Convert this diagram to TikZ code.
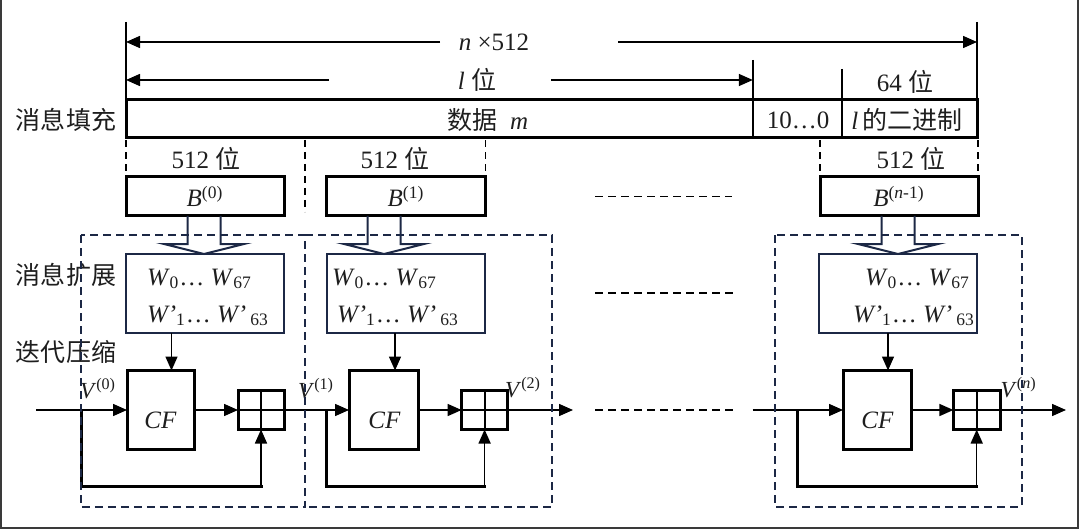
\documentclass[tikz,border=0pt]{standalone}
\usepackage{fontspec}
\setmainfont{Liberation Serif}
\newfontfamily\cjk{Noto Sans CJK SC}
\usetikzlibrary{arrows.meta,calc}
\definecolor{navy}{HTML}{1C2845}
\definecolor{framec}{HTML}{3A3A3A}
\definecolor{txt}{HTML}{1E1E1E}
\newcommand\myW{\textit{W}}
\newcommand\myWp{\textit{W'}}
\begin{document}
\begin{tikzpicture}[x=0.5pt,y=-0.5pt,
  every node/.style={inner sep=0pt, outer sep=0pt, font=\fontsize{12.5}{14}\selectfont, text=txt},
  vlab/.style={anchor=base west, font=\fontsize{11.5}{13}\selectfont},
  thickbox/.style={draw=black, line width=1.5pt, rectangle},
  wbox/.style={draw=navy, line width=1pt, rectangle},
  arr/.style={-{Triangle[length=7pt,width=6pt]}, line width=0.75pt},
  vline/.style={line width=1pt},
  blkdash/.style={line width=0.75pt, dash pattern=on 3.5pt off 2.5pt},
  sepdash/.style={line width=0.8pt, dash pattern=on 4pt off 2.5pt},
  navydash/.style={draw=navy, line width=0.9pt, dash pattern=on 4pt off 2.5pt},
  hollow/.style={draw=navy, line width=1pt, line join=miter},
  fbline/.style={line width=1.5pt, line join=miter, line cap=rect},
]
\useasboundingbox (0,0) rectangle (1080,529);
% frame
\draw[framec, line width=1.2pt] (1,0) -- (1,528) -- (1078,528) -- (1078,0);

% ---------- message bar ----------
\node[thickbox, minimum width=425.5pt, minimum height=19pt] (bar) at (551.5,118.5) {};
\coordinate (tl) at (126,22);
\coordinate (tr) at (977,22);
\coordinate (d1) at (752.8,60);
\coordinate (d2) at (842,69);
\draw[vline] (tl) -- (tl |- bar.north);
\draw[vline] (tr) -- (tr |- bar.north);
\draw[vline] (d1) -- (d1 |- bar.south);
\draw[vline] (d2) -- (d2 |- bar.south);

\node (ntxt) at (494,42) {\textit{n} ×512};
\coordinate (n1) at (440,42);
\coordinate (n2) at (618,42);
\draw[arr] (n1) -- (n1 -| tl);
\draw[arr] (n2) -- (n2 -| tr);

\node (ltxt) at (477,80) {\textit{l} {\cjk 位}};
\coordinate (l1) at (329,80);
\coordinate (l2) at (551,80);
\draw[arr] (l1) -- (l1 -| tl);
\draw[arr] (l2) -- (l2 -| d1);
\node (t64) at (905,82) {64 {\cjk 位}};

\node (tm) at (488,120) {{\cjk 数据}\ \ \textit{m}};
\node (tpad) at (798,120) {10…0};
\node (tlen) at (907,120) {\textit{l}\,{\cjk 的二进制}};
\node (lab1) at (66,120) {{\cjk 消息填充}};
\node (lab2) at (66,275) {{\cjk 消息扩展}};
\node (lab3) at (66,352) {{\cjk 迭代压缩}};

% ---------- blocks ----------
\node (s512a) at (206,159) {512 {\cjk 位}};
\node (s512b) at (395,159) {512 {\cjk 位}};
\node (s512c) at (911,159) {512 {\cjk 位}};

\node[thickbox, minimum width=79pt, minimum height=19.5pt] (B0) at (205,196.5) {\textit{B}\textsuperscript{(0)}};
\node[thickbox, minimum width=79.5pt, minimum height=19.5pt] (B1) at (406,196.5) {\textit{B}\textsuperscript{(1)}};
\node[thickbox, minimum width=79pt, minimum height=19.5pt] (Bn) at (899,196.5) {\textit{B}\textsuperscript{(\textit{n}-1)}};

\coordinate (mid01) at (305,140);
\coordinate (mid01b) at (305,212);
\draw[blkdash] ([yshift=-1.5pt]bar.south -| B0.west) -- (B0.north west);
\draw[blkdash] (mid01) -- (mid01b);
\draw[blkdash] ([yshift=-1.5pt]bar.south -| B1.east) -- (B1.north east);
\draw[blkdash] ([yshift=-1.5pt]bar.south -| Bn.west) -- (Bn.north west);
\draw[blkdash] ([yshift=-1.5pt]bar.south -| Bn.east) -- (Bn.north east);

% separators
\coordinate (sa1) at (595,196.7); \coordinate (sa2) at (732,196.7);
\coordinate (sb1) at (595,292.7); \coordinate (sb2) at (732.7,292.7);
\coordinate (sc1) at (595,410);   \coordinate (sc2) at (732.7,410);
\draw[sepdash] (sa1) -- (sa2);
\draw[sepdash] (sb1) -- (sb2);
\draw[sepdash] (sc1) -- (sc2);

% W boxes
\node[wbox, minimum width=79pt, minimum height=39.5pt] (W1) at (204.8,293.5) {};
\node[wbox, minimum width=79.35pt, minimum height=39.5pt] (W2) at (406,293.5) {};
\node[wbox, minimum width=79pt, minimum height=39.5pt] (W3) at (898.3,293.5) {};
\node[anchor=base west] (w1a) at (147,285) {\myW\textsubscript{0}…\ \myW\textsubscript{67}};
\node[anchor=base west] (w1b) at (147,322) {\myWp\textsubscript{1}…\ \myWp\,\textsubscript{63}};
\node[anchor=base west] (w2a) at (332,285) {\myW\textsubscript{0}…\ \myW\textsubscript{67}};
\node[anchor=base west] (w2b) at (337,322) {\myWp\textsubscript{1}…\ \myWp\,\textsubscript{63}};
\node[anchor=base west] (w3a) at (865,285) {\myW\textsubscript{0}…\ \myW\textsubscript{67}};
\node[anchor=base west] (w3b) at (853,322) {\myWp\textsubscript{1}…\ \myWp\,\textsubscript{63}};

% hollow arrows B -> W
\coordinate (h1) at (204,254);
\coordinate (h2) at (384,254);
\coordinate (h3) at (898,254);
\foreach \h/\b in {h1/B0,h2/B1,h3/Bn}{
  \draw[hollow] ($(\h |- \b.south)+(-16.5,0)$) -- ($(\h)+(-16.5,-10)$) -- ($(\h)+(-40,-10)$) -- (\h)
     -- ($(\h)+(40,-10)$) -- ($(\h)+(16.5,-10)$) -- ($(\h |- \b.south)+(16.5,0)$);
}

% CF boxes
\node[thickbox, minimum width=33.5pt, minimum height=39.5pt] (CF1) at (160.5,410) {};
\node[thickbox, minimum width=34.5pt, minimum height=39.5pt] (CF2) at (383.5,410) {};
\node[thickbox, minimum width=34pt, minimum height=39.5pt] (CF3) at (877,410) {};
\node (cf1t) at (160.5,420.5) {\textit{CF}};
\node (cf2t) at (384.5,420.5) {\textit{CF}};
\node (cf3t) at (877.5,420.5) {\textit{CF}};

% W -> CF arrows
\coordinate (a1) at ($(CF1.north)+(11,0)$);
\coordinate (a2) at ($(CF2.north)+(11.5,0)$);
\coordinate (a3) at ($(CF3.north)+(11,0)$);
\draw[arr] (a1 |- W1.south) -- (a1);
\draw[arr] (a2 |- W2.south) -- (a2);
\draw[arr] (a3 |- W3.south) -- (a3);

% plus boxes
\node[thickbox, minimum width=23pt, minimum height=19.5pt] (P1) at (261,410) {};
\node[thickbox, minimum width=23pt, minimum height=19.5pt] (P2) at (484.6,410) {};
\node[thickbox, minimum width=23.3pt, minimum height=19.5pt] (P3) at (976.7,410) {};
\foreach \p in {P1,P2,P3}{
  \draw[line width=1pt] (\p.north) -- (\p.south) (\p.west) -- (\p.east);
}

% main flow
\coordinate (in0) at (36,410);
\coordinate (out2) at (573,410);
\coordinate (in3) at (752.7,410);
\coordinate (out3) at (1066,410);
\draw[arr] (in0) -- (CF1.west);
\draw[arr] (CF1.east) -- (P1.west);
\draw[arr] (P1.east) -- (CF2.west);
\draw[arr] (CF2.east) -- (P2.west);
\draw[arr] (P2.east) -- (out2);
\draw[arr] (in3) -- (CF3.west);
\draw[arr] (CF3.east) -- (P3.west);
\draw[arr] (P3.east) -- (out3);

% feedback
\coordinate (fb1) at (81.4,410);
\coordinate (fb2) at (326.7,410);
\coordinate (fb3) at (797.3,410);
\coordinate (bt) at (0,486.8);
\foreach \f/\p in {fb1/P1,fb2/P2,fb3/P3}{
  \draw[fbline] (\f) -- (\f |- bt) -- (\p.south |- bt);
  \draw[arr] (\p.south |- bt) -- (\p.south);
}

% V labels
\node[vlab] (v0) at (80,398) {\textit{V}\textsuperscript{(0)}};
\node[vlab] (v1) at (298,398) {\textit{V}\textsuperscript{(1)}};
\node[vlab] (v2) at (505,397) {\textit{V}\textsuperscript{(2)}};
\node[vlab] (vn) at (1000.7,397) {\textit{V}\textsuperscript{(\textit{n})}};

% dashed stage frames
\draw[navydash] (80.6,235) rectangle (305,506.7);
\draw[navydash] (305,235) -- (552,235) -- (552,506.7) -- (305,506.7);
\draw[navydash] (775,235) rectangle (1021.7,506.7);
\end{tikzpicture}
\end{document}
